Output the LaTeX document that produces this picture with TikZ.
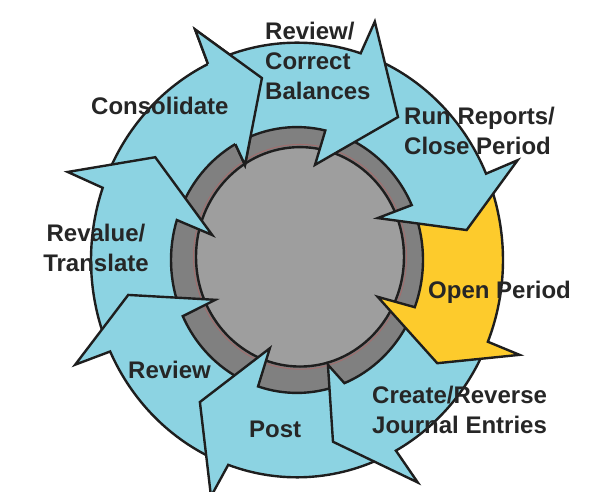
\documentclass[tikz,border=0pt]{standalone}
\usepackage{fontspec}
\newfontfamily\labelfont{Liberation Sans}
\newlength{\du}
\setlength{\du}{1pt}
\definecolor{arrowblue}{RGB}{140,211,226}
\definecolor{periodyellow}{RGB}{253,203,44}
\definecolor{wallgray}{RGB}{128,128,128}
\definecolor{hubgray}{RGB}{158,158,158}
\definecolor{edgeblack}{RGB}{30,30,30}
\definecolor{rimred}{RGB}{160,110,110}
\definecolor{labelgray}{RGB}{38,38,38}
\tikzset{
  arrowface/.style={fill=arrowblue, draw=edgeblack, line width=2.4\du},
  openface/.style={arrowface, fill=periodyellow},
  cyclelabel/.style={font=\labelfont\bfseries\fontsize{24}{30}\selectfont, text=labelgray, inner sep=0pt}
}

\begin{document}
\begin{tikzpicture}
\useasboundingbox (-297\du,-232\du) rectangle (294\du,260\du);
\begin{scope}[yscale=1.055]
% side wall and hub
\fill[wallgray] (0,0) circle[radius=126\du];
\filldraw[fill=hubgray, draw=edgeblack, line width=2.4\du] (3\du,3\du) circle[radius=104\du];
\draw[rimred, line width=1\du] (3\du,3\du) circle[radius=106.5\du];
% arrows, drawn backwards round the cycle
% Consolidate
\filldraw[arrowface] (-202.4:206\du) arc[start angle=-202.4, end angle=-244.4, radius=206\du] -- (-245:241\du) -- (-258.5:176\du) -- (-240:104\du) -- (-240.7:126\du) arc[start angle=-240.7, end angle=-200.5, radius=126\du] -- cycle;
% Revalue/Translate
\filldraw[arrowface] (-158.1:206\du) arc[start angle=-158.1, end angle=-199.4, radius=206\du] -- (-200:244\du) -- (-214.5:172\du) -- (-195.6:88\du) -- (-197.5:126\du) arc[start angle=-197.5, end angle=-158, radius=126\du] -- cycle;
% Review
\filldraw[arrowface] (-112.5:206\du) arc[start angle=-112.5, end angle=-155.1, radius=206\du] -- (-155.9:243\du) -- (-168.9:172\du) -- (-155.2:90\du) -- (-155:126\du) arc[start angle=-155, end angle=-111, radius=126\du] -- cycle;
% Post
\filldraw[arrowface] (-64.3:206\du) arc[start angle=-64.3, end angle=-109.5, radius=206\du] -- (-111:240\du) -- (-125.8:166\du) -- (-108:88\du) -- (-108:126\du) arc[start angle=-108, end angle=-70.9, radius=126\du] -- cycle;
% Create/Reverse
\filldraw[arrowface] (-25.1:206\du) arc[start angle=-25.1, end angle=-61.3, radius=206\du] -- (-60.2:243\du) -- (-78.2:176\du) -- (-72.7:104\du) -- (-67.9:126\du) arc[start angle=-67.9, end angle=-23.8, radius=126\du] -- cycle;
% Open Period
\filldraw[openface] (20.4:206\du) arc[start angle=20.4, end angle=-22.1, radius=206\du] -- (-22:240\du) -- (-34.9:171\du) -- (-23.4:88\du) -- (-20.8:126\du) arc[start angle=-20.8, end angle=21.4, radius=126\du] -- cycle;
% Run Reports
\filldraw[arrowface] (69:206\du) arc[start angle=69, end angle=23.4, radius=206\du] -- (23.2:240\du) -- (9.5:172\du) -- (26.2:90\du) -- (24.4:126\du) arc[start angle=24.4, end angle=74, radius=126\du] -- cycle;
% Review/Correct
\filldraw[arrowface] (112.6:206\du) arc[start angle=112.6, end angle=72, radius=206\du] -- (71:239\du) -- (53.3:169\du) -- (78.7:92\du) -- (77:126\du) arc[start angle=77, end angle=116.3, radius=126\du] -- cycle;
% head of Consolidate again, over the tail of Review/Correct
\fill[arrowblue] (-244.4:206\du) -- (-245:241\du) -- (-258.5:176\du) -- (-240:104\du) -- (-240.7:126\du) -- cycle;
\draw[arrowface, fill=none] (-244.4:206\du) -- (-245:241\du) -- (-258.5:176\du) -- (-240:104\du) -- (-240.7:126\du);
\end{scope}
% labels
\node[cyclelabel, anchor=base west, align=left] (balances) at (-32\du,160\du) {Review/\\Correct\\Balances};
\node[cyclelabel, anchor=base west, align=left] (reports) at (107\du,105\du) {Run Reports/\\Close Period};
\node[cyclelabel, anchor=base west] (open) at (131\du,-38\du) {Open Period};
\node[cyclelabel, anchor=base west, align=left] (entries) at (75\du,-173\du) {Create/Reverse\\Journal Entries};
\node[cyclelabel, anchor=base west] (post) at (-48\du,-177\du) {Post};
\node[cyclelabel, anchor=base west] (review) at (-169\du,-118\du) {Review};
\node[cyclelabel, anchor=base, align=center] (revalue) at (-201\du,-12\du) {Revalue/\\Translate};
\node[cyclelabel, anchor=base west] (consolidate) at (-206\du,145\du) {Consolidate};
\end{tikzpicture}
\end{document}
